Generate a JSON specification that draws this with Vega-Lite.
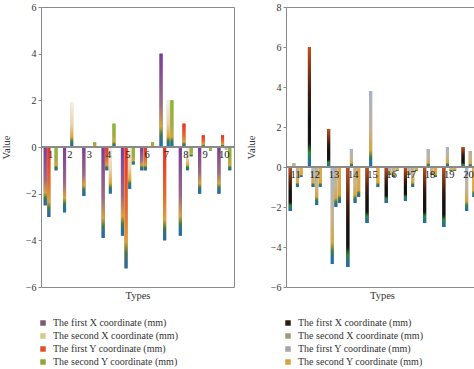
{
  "$schema": "https://vega.github.io/schema/vega-lite/v6.json",
  "padding": {"left": 0, "top": 1, "right": 0, "bottom": 0},
  "datasets": {
    "left": [
      {"Type": 1, "Series": "The first X coordinate (mm)", "Value": -2.5},
      {"Type": 1, "Series": "The second X coordinate (mm)", "Value": 0},
      {"Type": 1, "Series": "The first Y coordinate (mm)", "Value": -3.0},
      {"Type": 1, "Series": "The second Y coordinate (mm)", "Value": -1.0},
      {"Type": 2, "Series": "The first X coordinate (mm)", "Value": -2.8},
      {"Type": 2, "Series": "The second X coordinate (mm)", "Value": 1.9},
      {"Type": 2, "Series": "The first Y coordinate (mm)", "Value": 0},
      {"Type": 2, "Series": "The second Y coordinate (mm)", "Value": 0},
      {"Type": 3, "Series": "The first X coordinate (mm)", "Value": -2.1},
      {"Type": 3, "Series": "The second X coordinate (mm)", "Value": 0},
      {"Type": 3, "Series": "The first Y coordinate (mm)", "Value": 0},
      {"Type": 3, "Series": "The second Y coordinate (mm)", "Value": 0.2},
      {"Type": 4, "Series": "The first X coordinate (mm)", "Value": -3.9},
      {"Type": 4, "Series": "The second X coordinate (mm)", "Value": -2.0},
      {"Type": 4, "Series": "The first Y coordinate (mm)", "Value": -1.0},
      {"Type": 4, "Series": "The second Y coordinate (mm)", "Value": 1.0},
      {"Type": 5, "Series": "The first X coordinate (mm)", "Value": -3.8},
      {"Type": 5, "Series": "The second X coordinate (mm)", "Value": -1.8},
      {"Type": 5, "Series": "The first Y coordinate (mm)", "Value": -5.2},
      {"Type": 5, "Series": "The second Y coordinate (mm)", "Value": -0.75},
      {"Type": 6, "Series": "The first X coordinate (mm)", "Value": -1.0},
      {"Type": 6, "Series": "The second X coordinate (mm)", "Value": 0},
      {"Type": 6, "Series": "The first Y coordinate (mm)", "Value": -1.0},
      {"Type": 6, "Series": "The second Y coordinate (mm)", "Value": 0.2},
      {"Type": 7, "Series": "The first X coordinate (mm)", "Value": 4.0},
      {"Type": 7, "Series": "The second X coordinate (mm)", "Value": 2.0},
      {"Type": 7, "Series": "The first Y coordinate (mm)", "Value": -4.0},
      {"Type": 7, "Series": "The second Y coordinate (mm)", "Value": 2.0},
      {"Type": 8, "Series": "The first X coordinate (mm)", "Value": -3.8},
      {"Type": 8, "Series": "The second X coordinate (mm)", "Value": -1.0},
      {"Type": 8, "Series": "The first Y coordinate (mm)", "Value": 1.0},
      {"Type": 8, "Series": "The second Y coordinate (mm)", "Value": -0.4},
      {"Type": 9, "Series": "The first X coordinate (mm)", "Value": -2.0},
      {"Type": 9, "Series": "The second X coordinate (mm)", "Value": 0},
      {"Type": 9, "Series": "The first Y coordinate (mm)", "Value": 0.5},
      {"Type": 9, "Series": "The second Y coordinate (mm)", "Value": -0.15},
      {"Type": 10, "Series": "The first X coordinate (mm)", "Value": -2.0},
      {"Type": 10, "Series": "The second X coordinate (mm)", "Value": -0.1},
      {"Type": 10, "Series": "The first Y coordinate (mm)", "Value": 0.5},
      {"Type": 10, "Series": "The second Y coordinate (mm)", "Value": -1.0}
    ],
    "right": [
      {"Type": 11, "Series": "The first X coordinate (mm)", "Value": -2.2},
      {"Type": 11, "Series": "The second X coordinate (mm)", "Value": -1.0},
      {"Type": 11, "Series": "The first Y coordinate (mm)", "Value": 0.2},
      {"Type": 11, "Series": "The second Y coordinate (mm)", "Value": -0.5},
      {"Type": 12, "Series": "The first X coordinate (mm)", "Value": 6.0},
      {"Type": 12, "Series": "The second X coordinate (mm)", "Value": -1.9},
      {"Type": 12, "Series": "The first Y coordinate (mm)", "Value": -1.0},
      {"Type": 12, "Series": "The second Y coordinate (mm)", "Value": -1.0},
      {"Type": 13, "Series": "The first X coordinate (mm)", "Value": 1.9},
      {"Type": 13, "Series": "The second X coordinate (mm)", "Value": -2.0},
      {"Type": 13, "Series": "The first Y coordinate (mm)", "Value": -4.85},
      {"Type": 13, "Series": "The second Y coordinate (mm)", "Value": -1.8},
      {"Type": 14, "Series": "The first X coordinate (mm)", "Value": -5.0},
      {"Type": 14, "Series": "The second X coordinate (mm)", "Value": -1.8},
      {"Type": 14, "Series": "The first Y coordinate (mm)", "Value": 0.9},
      {"Type": 14, "Series": "The second Y coordinate (mm)", "Value": -1.5},
      {"Type": 15, "Series": "The first X coordinate (mm)", "Value": -2.8},
      {"Type": 15, "Series": "The second X coordinate (mm)", "Value": 0},
      {"Type": 15, "Series": "The first Y coordinate (mm)", "Value": 3.8},
      {"Type": 15, "Series": "The second Y coordinate (mm)", "Value": -1.0},
      {"Type": 16, "Series": "The first X coordinate (mm)", "Value": -1.8},
      {"Type": 16, "Series": "The second X coordinate (mm)", "Value": -0.5},
      {"Type": 16, "Series": "The first Y coordinate (mm)", "Value": -0.4},
      {"Type": 16, "Series": "The second Y coordinate (mm)", "Value": -0.2},
      {"Type": 17, "Series": "The first X coordinate (mm)", "Value": -1.7},
      {"Type": 17, "Series": "The second X coordinate (mm)", "Value": -1.0},
      {"Type": 17, "Series": "The first Y coordinate (mm)", "Value": -0.4},
      {"Type": 17, "Series": "The second Y coordinate (mm)", "Value": -0.2},
      {"Type": 18, "Series": "The first X coordinate (mm)", "Value": -2.8},
      {"Type": 18, "Series": "The second X coordinate (mm)", "Value": -0.4},
      {"Type": 18, "Series": "The first Y coordinate (mm)", "Value": 0.9},
      {"Type": 18, "Series": "The second Y coordinate (mm)", "Value": -0.5},
      {"Type": 19, "Series": "The first X coordinate (mm)", "Value": -3.0},
      {"Type": 19, "Series": "The second X coordinate (mm)", "Value": -0.2},
      {"Type": 19, "Series": "The first Y coordinate (mm)", "Value": 1.0},
      {"Type": 19, "Series": "The second Y coordinate (mm)", "Value": -0.2},
      {"Type": 20, "Series": "The first X coordinate (mm)", "Value": 1.0},
      {"Type": 20, "Series": "The second X coordinate (mm)", "Value": 0.8},
      {"Type": 20, "Series": "The first Y coordinate (mm)", "Value": -2.2},
      {"Type": 20, "Series": "The second Y coordinate (mm)", "Value": -1.5}
    ]
  },
  "hconcat": [
    {
      "width": 193,
      "height": 280,
      "data": {"name": "left"},
      "layer": [
        {
          "mark": {"type": "bar"},
          "encoding": {
            "x": {"field": "Type", "type": "ordinal", "scale": {"paddingInner": 0, "paddingOuter": 0}, "axis": {"labels": false, "ticks": false, "domain": false, "title": "Types", "titlePadding": 3}},
            "xOffset": {"field": "Series", "type": "nominal", "sort": ["The first X coordinate (mm)", "The second X coordinate (mm)", "The first Y coordinate (mm)", "The second Y coordinate (mm)"], "scale": {"paddingInner": 0.15, "paddingOuter": 0.75}},
            "y": {"field": "Value", "type": "quantitative", "scale": {"domain": [-6, 6], "nice": false}, "axis": {"values": [-6, -4, -2, 0, 2, 4, 6], "tickCount": 10, "labelOverlap": false, "grid": false, "title": "Value", "tickSize": 3, "labelPadding": 2, "titlePadding": 14, "domain": false}},
            "color": {"field": "Series", "type": "nominal", "sort": ["The first X coordinate (mm)", "The second X coordinate (mm)", "The first Y coordinate (mm)", "The second Y coordinate (mm)"], "scale": {"range": ["#7a5870", "#d8c88a", "#e05028", "#88a838"]}, "legend": {"orient": "none", "legendX": -3, "legendY": 311, "title": null, "symbolType": "square", "symbolSize": 30, "labelFontSize": 10, "rowPadding": 3, "labelOffset": 5}}
          }
        },
        {
          "transform": [{"filter": {"field": "Series", "equal": "The first X coordinate (mm)"}}],
          "mark": {"type": "bar", "color": {"gradient": "linear", "x1": 0, "y1": 0, "x2": 0, "y2": 1, "stops": [{"offset": 0, "color": "#7b3b9e"}, {"offset": 0.55, "color": "#9c6a86"}, {"offset": 0.78, "color": "#d8a53a"}, {"offset": 0.87, "color": "#3a7d4a"}, {"offset": 0.95, "color": "#1e70a8"}, {"offset": 1, "color": "#1e70a8"}]}},
          "encoding": {
            "x": {"field": "Type", "type": "ordinal"},
            "xOffset": {"field": "Series", "type": "nominal"},
            "y": {"field": "Value", "type": "quantitative"}
          }
        },
        {
          "transform": [{"filter": {"field": "Series", "equal": "The second X coordinate (mm)"}}],
          "mark": {"type": "bar", "color": {"gradient": "linear", "x1": 0, "y1": 0, "x2": 0, "y2": 1, "stops": [{"offset": 0, "color": "#f4f0ec"}, {"offset": 0.5, "color": "#e6d4b0"}, {"offset": 0.78, "color": "#d8a53a"}, {"offset": 0.87, "color": "#3a7d4a"}, {"offset": 0.95, "color": "#1e70a8"}, {"offset": 1, "color": "#1e70a8"}]}},
          "encoding": {
            "x": {"field": "Type", "type": "ordinal"},
            "xOffset": {"field": "Series", "type": "nominal"},
            "y": {"field": "Value", "type": "quantitative"}
          }
        },
        {
          "transform": [{"filter": {"field": "Series", "equal": "The first Y coordinate (mm)"}}],
          "mark": {"type": "bar", "color": {"gradient": "linear", "x1": 0, "y1": 0, "x2": 0, "y2": 1, "stops": [{"offset": 0, "color": "#ea2e26"}, {"offset": 0.5, "color": "#e46a2a"}, {"offset": 0.78, "color": "#d8a53a"}, {"offset": 0.87, "color": "#3a7d4a"}, {"offset": 0.95, "color": "#1e70a8"}, {"offset": 1, "color": "#1e70a8"}]}},
          "encoding": {
            "x": {"field": "Type", "type": "ordinal"},
            "xOffset": {"field": "Series", "type": "nominal"},
            "y": {"field": "Value", "type": "quantitative"}
          }
        },
        {
          "transform": [{"filter": {"field": "Series", "equal": "The second Y coordinate (mm)"}}],
          "mark": {"type": "bar", "color": {"gradient": "linear", "x1": 0, "y1": 0, "x2": 0, "y2": 1, "stops": [{"offset": 0, "color": "#86b83a"}, {"offset": 0.5, "color": "#a4aa40"}, {"offset": 0.78, "color": "#d8a53a"}, {"offset": 0.87, "color": "#3a7d4a"}, {"offset": 0.95, "color": "#1e70a8"}, {"offset": 1, "color": "#1e70a8"}]}},
          "encoding": {
            "x": {"field": "Type", "type": "ordinal"},
            "xOffset": {"field": "Series", "type": "nominal"},
            "y": {"field": "Value", "type": "quantitative"}
          }
        },
        {
          "mark": {"type": "rule", "color": "#8a8a8a", "strokeWidth": 1},
          "encoding": {"y": {"datum": 0}}
        },
        {
          "transform": [{"filter": {"field": "Series", "equal": "The first X coordinate (mm)"}}],
          "mark": {"type": "text", "baseline": "top", "dy": 3, "fontSize": 10.5, "color": "#222"},
          "encoding": {
            "x": {"field": "Type", "type": "ordinal"},
            "y": {"datum": 0},
            "text": {"field": "Type", "type": "nominal"}
          }
        }
      ]
    },
    {
      "width": 192,
      "height": 280,
      "data": {"name": "right"},
      "layer": [
        {
          "mark": {"type": "bar"},
          "encoding": {
            "x": {"field": "Type", "type": "ordinal", "scale": {"paddingInner": 0, "paddingOuter": 0}, "axis": {"labels": false, "ticks": false, "domain": false, "title": "Types", "titlePadding": 3}},
            "xOffset": {"field": "Series", "type": "nominal", "sort": ["The first X coordinate (mm)", "The second X coordinate (mm)", "The first Y coordinate (mm)", "The second Y coordinate (mm)"], "scale": {"paddingInner": 0.15, "paddingOuter": 0.75}},
            "y": {"field": "Value", "type": "quantitative", "scale": {"domain": [-6, 8], "nice": false}, "axis": {"values": [-6, -4, -2, 0, 2, 4, 6, 8], "tickCount": 10, "labelOverlap": false, "grid": false, "title": "Value", "tickSize": 3, "labelPadding": 2, "titlePadding": 14, "domain": false}},
            "color": {"field": "Series", "type": "nominal", "sort": ["The first X coordinate (mm)", "The second X coordinate (mm)", "The first Y coordinate (mm)", "The second Y coordinate (mm)"], "scale": {"range": ["#2a1a10", "#a09a78", "#a4a4a0", "#d8a040"]}, "legend": {"orient": "none", "legendX": -3, "legendY": 311, "title": null, "symbolType": "square", "symbolSize": 30, "labelFontSize": 10, "rowPadding": 3, "labelOffset": 5}}
          }
        },
        {
          "transform": [{"filter": {"field": "Series", "equal": "The first X coordinate (mm)"}}],
          "mark": {"type": "bar", "color": {"gradient": "linear", "x1": 0, "y1": 0, "x2": 0, "y2": 1, "stops": [{"offset": 0, "color": "#c8501c"}, {"offset": 0.4, "color": "#3a1a10"}, {"offset": 0.6, "color": "#111111"}, {"offset": 0.8, "color": "#141414"}, {"offset": 0.88, "color": "#2a8a3a"}, {"offset": 0.95, "color": "#1e70a8"}, {"offset": 1, "color": "#1e70a8"}]}},
          "encoding": {
            "x": {"field": "Type", "type": "ordinal"},
            "xOffset": {"field": "Series", "type": "nominal"},
            "y": {"field": "Value", "type": "quantitative"}
          }
        },
        {
          "transform": [{"filter": {"field": "Series", "equal": "The second X coordinate (mm)"}}],
          "mark": {"type": "bar", "color": {"gradient": "linear", "x1": 0, "y1": 0, "x2": 0, "y2": 1, "stops": [{"offset": 0, "color": "#b4b0a0"}, {"offset": 0.5, "color": "#c8b488"}, {"offset": 0.78, "color": "#d8a53a"}, {"offset": 0.87, "color": "#3a7d4a"}, {"offset": 0.95, "color": "#1e70a8"}, {"offset": 1, "color": "#1e70a8"}]}},
          "encoding": {
            "x": {"field": "Type", "type": "ordinal"},
            "xOffset": {"field": "Series", "type": "nominal"},
            "y": {"field": "Value", "type": "quantitative"}
          }
        },
        {
          "transform": [{"filter": {"field": "Series", "equal": "The first Y coordinate (mm)"}}],
          "mark": {"type": "bar", "color": {"gradient": "linear", "x1": 0, "y1": 0, "x2": 0, "y2": 1, "stops": [{"offset": 0, "color": "#a4b4d0"}, {"offset": 0.5, "color": "#c4b494"}, {"offset": 0.78, "color": "#d8a53a"}, {"offset": 0.87, "color": "#3a7d4a"}, {"offset": 0.95, "color": "#1e70a8"}, {"offset": 1, "color": "#1e70a8"}]}},
          "encoding": {
            "x": {"field": "Type", "type": "ordinal"},
            "xOffset": {"field": "Series", "type": "nominal"},
            "y": {"field": "Value", "type": "quantitative"}
          }
        },
        {
          "transform": [{"filter": {"field": "Series", "equal": "The second Y coordinate (mm)"}}],
          "mark": {"type": "bar", "color": {"gradient": "linear", "x1": 0, "y1": 0, "x2": 0, "y2": 1, "stops": [{"offset": 0, "color": "#eaa048"}, {"offset": 0.5, "color": "#e0a844"}, {"offset": 0.78, "color": "#d8a53a"}, {"offset": 0.87, "color": "#3a7d4a"}, {"offset": 0.95, "color": "#1e70a8"}, {"offset": 1, "color": "#1e70a8"}]}},
          "encoding": {
            "x": {"field": "Type", "type": "ordinal"},
            "xOffset": {"field": "Series", "type": "nominal"},
            "y": {"field": "Value", "type": "quantitative"}
          }
        },
        {
          "mark": {"type": "rule", "color": "#8a8a8a", "strokeWidth": 1},
          "encoding": {"y": {"datum": 0}}
        },
        {
          "transform": [{"filter": {"field": "Series", "equal": "The first X coordinate (mm)"}}],
          "mark": {"type": "text", "baseline": "top", "dy": 3, "fontSize": 10.5, "color": "#222"},
          "encoding": {
            "x": {"field": "Type", "type": "ordinal"},
            "y": {"datum": 0},
            "text": {"field": "Type", "type": "nominal"}
          }
        }
      ]
    }
  ],
  "spacing": 10,
  "resolve": {"scale": {"color": "independent"}, "legend": {"color": "independent"}},
  "config": {
    "font": "Liberation Serif",
    "view": {"stroke": "#8a8a8a", "strokeWidth": 1},
    "axis": {"labelFont": "Liberation Serif", "titleFont": "Liberation Serif", "labelFontSize": 10, "titleFontSize": 10.5, "titleFontWeight": "normal", "labelColor": "#333333", "titleColor": "#333333", "tickColor": "#8a8a8a"},
    "legend": {"labelFont": "Liberation Serif", "labelColor": "#333333"},
    "text": {"font": "Liberation Serif"}
  }
}
